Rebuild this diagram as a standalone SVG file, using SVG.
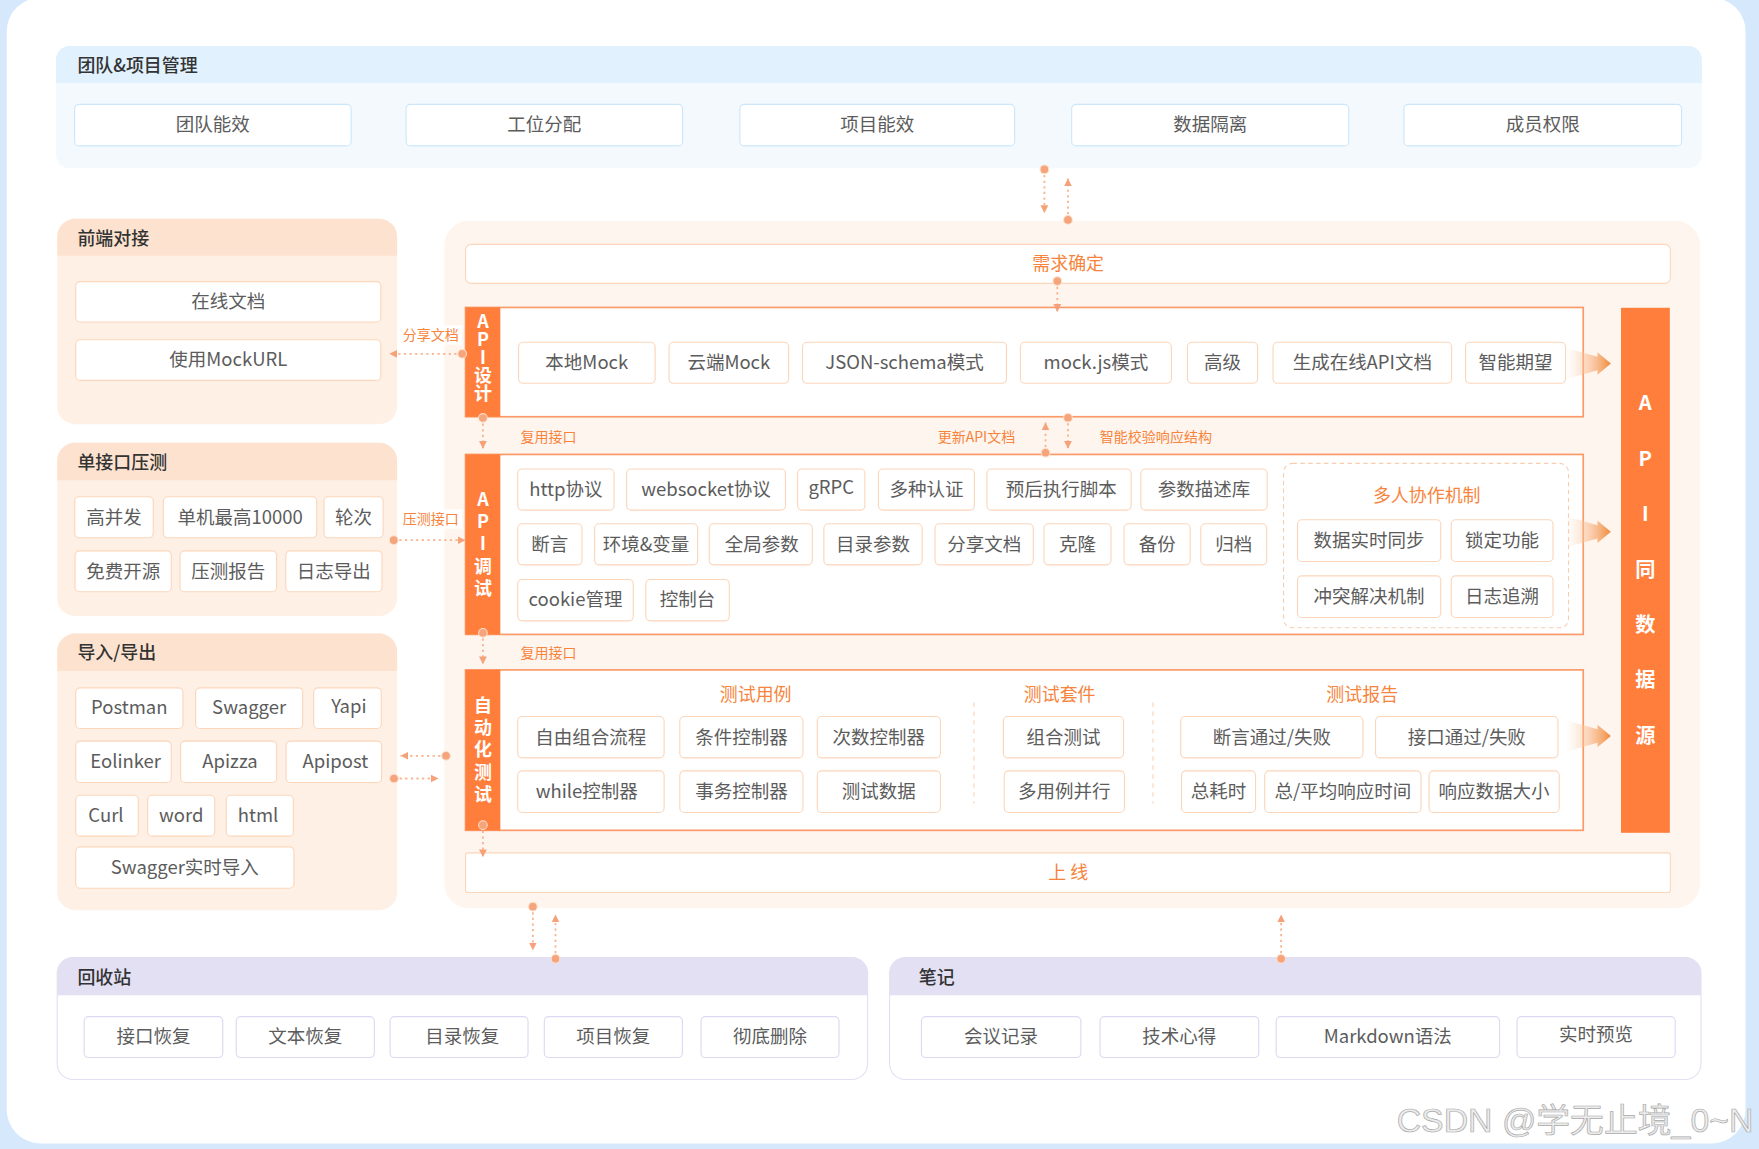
<svg xmlns="http://www.w3.org/2000/svg" width="1759" height="1149" viewBox="0 0 1759 1149">
<defs>
<style>
text{font-family:"Noto Sans CJK SC","Noto Sans",sans-serif}
.bt{font-size:16.5px;fill:#5c5c5c;text-anchor:middle;dominant-baseline:central}
.tb{fill:#fff;stroke:#cbe7fb;stroke-width:1}
.ob{fill:#fff;stroke:#fbd6ba;stroke-width:1}
.pb{fill:#fff;stroke:#dcd9f2;stroke-width:1}
.ttl{font-size:16px;fill:#333;font-weight:500;dominant-baseline:central}
.lbl{font-size:12.5px;fill:#f7843c;dominant-baseline:central}
.sec{font-size:16px;fill:#f7843c;text-anchor:middle;dominant-baseline:central}
.vv{font-size:16px;fill:#fff;font-weight:700;text-anchor:middle;writing-mode:vertical-rl;text-orientation:upright}
.vt2{font-size:18px;fill:#fff;font-weight:700;text-anchor:middle;dominant-baseline:central}
.bar{fill:#ff7e3b}
.frame{fill:#fff;stroke:#fb9a68;stroke-width:1.5}
.cn{stroke:#f7b48f;stroke-width:1.6;stroke-dasharray:2 3;fill:none;marker-start:url(#dot);marker-end:url(#arr)}
.lp{fill:#fef0e5}
.lh{fill:#fde3cf}
.ga{fill:url(#ga)}
</style>
<marker id="arr" viewBox="0 0 10 10" refX="10" refY="5" markerWidth="7" markerHeight="8" markerUnits="userSpaceOnUse" orient="auto"><path d="M0,0 L10,5 L0,10 z" fill="#f5a27a"/></marker>
<marker id="dot" viewBox="0 0 10 10" refX="5" refY="5" markerWidth="9" markerHeight="9" markerUnits="userSpaceOnUse"><circle cx="5" cy="5" r="4.3" fill="#f5a47c" stroke="#fde0cc" stroke-width="1"/></marker>
<linearGradient id="ga" x1="0" x2="1" y1="0" y2="0"><stop offset="0" stop-color="#fbd5b8" stop-opacity="0"/><stop offset="0.6" stop-color="#f8b585" stop-opacity="0.7"/><stop offset="1" stop-color="#f08a3a"/></linearGradient>
</defs>
<rect x="0" y="0" width="1759" height="1149" fill="#d6e9fc"/>
<g transform="scale(1.12181,1.12207)">
<rect x="6" y="-2" width="1550" height="1021" rx="30" fill="#fff"/>

<!-- top band -->
<g id="team">
<rect x="50" y="41" width="1467" height="109" rx="12" fill="#f4f9fe"/>
<path d="M50,74 V53 A12,12 0 0 1 62,41 H1505 A12,12 0 0 1 1517,53 V74 Z" fill="#e1f1fd"/>
<text class="ttl" x="69" y="57">团队&amp;项目管理</text>
<g id="t1"><rect class="tb" x="66.5" y="93" width="246.5" height="37" rx="4"/><text class="bt" x="189.7" y="109.5">团队能效</text></g>
<g id="t2"><rect class="tb" x="362" y="93" width="246.5" height="37" rx="4"/><text class="bt" x="485.2" y="109.5">工位分配</text></g>
<g id="t3"><rect class="tb" x="659.5" y="93" width="245" height="37" rx="4"/><text class="bt" x="782" y="109.5">项目能效</text></g>
<g id="t4"><rect class="tb" x="955.3" y="93" width="247" height="37" rx="4"/><text class="bt" x="1078.8" y="109.5">数据隔离</text></g>
<g id="t5"><rect class="tb" x="1251.5" y="93" width="247.5" height="37" rx="4"/><text class="bt" x="1375.2" y="109.5">成员权限</text></g>
</g>

<!-- 前端对接 -->
<g id="frontend">
<rect class="lp" x="51" y="195" width="303" height="183" rx="16"/>
<path class="lh" d="M51,228 V211 A16,16 0 0 1 67,195 H338 A16,16 0 0 1 354,211 V228 Z"/>
<text class="ttl" x="69" y="211">前端对接</text>
<g id="f1"><rect class="ob" x="67.5" y="251" width="272" height="36" rx="4"/><text class="bt" x="203.5" y="267.5">在线文档</text></g>
<g id="f2"><rect class="ob" x="67.5" y="302.8" width="272" height="36.2" rx="4"/><text class="bt" x="203.5" y="319.5">使用MockURL</text></g>
</g>

<!-- 单接口压测 -->
<g id="stress">
<rect class="lp" x="51" y="394.5" width="303" height="154.5" rx="16"/>
<path class="lh" d="M51,428 V410.5 A16,16 0 0 1 67,394.5 H338 A16,16 0 0 1 354,410.5 V428 Z"/>
<text class="ttl" x="69" y="410.5">单接口压测</text>
<g id="s1"><rect class="ob" x="66.6" y="442.7" width="70" height="36.6" rx="4"/><text class="bt" x="101.6" y="459.5">高并发</text></g>
<g id="s2"><rect class="ob" x="145.6" y="442.7" width="136.7" height="36.6" rx="4"/><text class="bt" x="214" y="459.5">单机最高10000</text></g>
<g id="s3"><rect class="ob" x="288.8" y="442.7" width="52.7" height="36.6" rx="4"/><text class="bt" x="315.1" y="459.5">轮次</text></g>
<g id="s4"><rect class="ob" x="66.9" y="490.9" width="85.8" height="36.5" rx="4"/><text class="bt" x="109.8" y="507.7">免费开源</text></g>
<g id="s5"><rect class="ob" x="160.5" y="490.9" width="86.1" height="36.5" rx="4"/><text class="bt" x="203.5" y="507.7">压测报告</text></g>
<g id="s6"><rect class="ob" x="254.7" y="490.9" width="85.8" height="36.5" rx="4"/><text class="bt" x="297.6" y="507.7">日志导出</text></g>
</g>

<!-- 导入/导出 -->
<g id="import">
<rect class="lp" x="51" y="564.6" width="303" height="246.6" rx="16"/>
<path class="lh" d="M51,598 V580.6 A16,16 0 0 1 67,564.6 H338 A16,16 0 0 1 354,580.6 V598 Z"/>
<text class="ttl" x="69" y="580.5">导入/导出</text>
<g id="i1"><rect class="ob" x="67.5" y="613" width="95.6" height="36.2" rx="4"/><text class="bt" x="115.3" y="629.5">Postman</text></g>
<g id="i2"><rect class="ob" x="174.4" y="613" width="95.4" height="36.2" rx="4"/><text class="bt" x="222.1" y="629.5">Swagger</text></g>
<g id="i3"><rect class="ob" x="279.6" y="613" width="60.3" height="36.2" rx="4"/><text class="bt" x="311" y="628">Yapi</text></g>
<g id="i4"><rect class="ob" x="67.5" y="660.5" width="85.2" height="36.9" rx="4"/><text class="bt" x="112" y="677.5">Eolinker</text></g>
<g id="i5"><rect class="ob" x="161" y="660.5" width="85.6" height="36.9" rx="4"/><text class="bt" x="205" y="677.5">Apizza</text></g>
<g id="i6"><rect class="ob" x="255" y="660.5" width="85.2" height="36.9" rx="4"/><text class="bt" x="299" y="677.5">Apipost</text></g>
<g id="i7"><rect class="ob" x="67.5" y="708.7" width="55.8" height="36.5" rx="4"/><text class="bt" x="94.5" y="725.5">Curl</text></g>
<g id="i8"><rect class="ob" x="131.6" y="708.7" width="59.8" height="36.5" rx="4"/><text class="bt" x="161.5" y="725.5">word</text></g>
<g id="i9"><rect class="ob" x="201.7" y="708.7" width="59.8" height="36.5" rx="4"/><text class="bt" x="230" y="725.5">html</text></g>
<g id="i10"><rect class="ob" x="67.5" y="754.7" width="194.5" height="36.9" rx="4"/><text class="bt" x="164.7" y="771.5">Swagger实时导入</text></g>
</g>

<!-- middle panel -->
<g id="main">
<rect x="396" y="196.7" width="1119.4" height="612.7" rx="22" fill="#fef5ee"/>
<g id="req"><rect class="ob" x="415" y="217.8" width="1074" height="34.8" rx="5"/><text class="sec" x="952.2" y="233.8">需求确定</text></g>

<g id="design">
<rect class="frame" x="415" y="274" width="996.3" height="97.4"/>
<rect class="bar" x="415" y="274" width="31" height="97.4"/>
<text class="vv" x="430.5" y="318.5">API设计</text>
<g id="d1"><rect class="ob" x="462.3" y="305" width="121.7" height="36.6" rx="4"/><text class="bt" x="523.1" y="321.8">本地Mock</text></g>
<g id="d2"><rect class="ob" x="596.4" y="305" width="106.6" height="36.6" rx="4"/><text class="bt" x="649.7" y="321.8">云端Mock</text></g>
<g id="d3"><rect class="ob" x="715.4" y="305" width="181.8" height="36.6" rx="4"/><text class="bt" x="806.3" y="321.8">JSON-schema模式</text></g>
<g id="d4"><rect class="ob" x="909.6" y="305" width="134.6" height="36.6" rx="4"/><text class="bt" x="976.9" y="321.8">mock.js模式</text></g>
<g id="d5"><rect class="ob" x="1058.5" y="305" width="62.5" height="36.6" rx="4"/><text class="bt" x="1089.7" y="321.8">高级</text></g>
<g id="d6"><rect class="ob" x="1134.8" y="305" width="159.2" height="36.6" rx="4"/><text class="bt" x="1214.4" y="321.8">生成在线API文档</text></g>
<g id="d7"><rect class="ob" x="1306.4" y="305" width="89.1" height="36.6" rx="4"/><text class="bt" x="1351" y="321.8">智能期望</text></g>
</g>

<g id="debug">
<rect class="frame" x="415" y="405" width="996.3" height="160.4"/>
<rect class="bar" x="415" y="405" width="31" height="160.4"/>
<text class="vv" x="430.5" y="486.5" style="letter-spacing:4px">API调试</text>
<g id="g1"><rect class="ob" x="461.5" y="418" width="85.9" height="36.6" rx="4"/><text class="bt" x="504.4" y="434.8">http协议</text></g>
<g id="g2"><rect class="ob" x="558.6" y="418" width="141.6" height="36.6" rx="4"/><text class="bt" x="629.4" y="434.8">websocket协议</text></g>
<g id="g3"><rect class="ob" x="711" y="418" width="60" height="36.6" rx="4"/><text class="bt" x="741" y="433.5">gRPC</text></g>
<g id="g4"><rect class="ob" x="783" y="418" width="85.6" height="36.6" rx="4"/><text class="bt" x="825.8" y="434.8">多种认证</text></g>
<g id="g5"><rect class="ob" x="879.7" y="418" width="128.6" height="36.6" rx="4"/><text class="bt" x="946" y="434.8">预后执行脚本</text></g>
<g id="g6"><rect class="ob" x="1017" y="418" width="112.6" height="36.6" rx="4"/><text class="bt" x="1073.3" y="434.8">参数描述库</text></g>
<g id="g7"><rect class="ob" x="461.5" y="466.8" width="57.3" height="36.6" rx="4"/><text class="bt" x="490.1" y="483.6">断言</text></g>
<g id="g8"><rect class="ob" x="530" y="466.8" width="91.9" height="36.6" rx="4"/><text class="bt" x="575.9" y="483.6">环境&amp;变量</text></g>
<g id="g9"><rect class="ob" x="632.2" y="466.8" width="91.9" height="36.6" rx="4"/><text class="bt" x="679" y="483.6">全局参数</text></g>
<g id="g10"><rect class="ob" x="734.4" y="466.8" width="87.6" height="36.6" rx="4"/><text class="bt" x="778.2" y="483.6">目录参数</text></g>
<g id="g11"><rect class="ob" x="833.5" y="466.8" width="87.6" height="36.6" rx="4"/><text class="bt" x="877.3" y="483.6">分享文档</text></g>
<g id="g12"><rect class="ob" x="930.6" y="466.8" width="59.8" height="36.6" rx="4"/><text class="bt" x="960.5" y="483.6">克隆</text></g>
<g id="g13"><rect class="ob" x="1002" y="466.8" width="59" height="36.6" rx="4"/><text class="bt" x="1031.5" y="483.6">备份</text></g>
<g id="g14"><rect class="ob" x="1070.4" y="466.8" width="58.8" height="36.6" rx="4"/><text class="bt" x="1099.8" y="483.6">归档</text></g>
<g id="g15"><rect class="ob" x="461.5" y="516.4" width="103" height="36.9" rx="4"/><text class="bt" x="513" y="533.3">cookie管理</text></g>
<g id="g16"><rect class="ob" x="575.7" y="516.4" width="74.4" height="36.9" rx="4"/><text class="bt" x="612.9" y="533.3">控制台</text></g>
<g id="collab">
<rect x="1144.2" y="413" width="254" height="146.5" rx="8" fill="none" stroke="#f9cdb0" stroke-width="1" stroke-dasharray="4 3"/>
<text class="sec" x="1271.8" y="440.5">多人协作机制</text>
<g id="c1"><rect class="ob" x="1156.6" y="463.2" width="127.7" height="37.2" rx="4"/><text class="bt" x="1220.4" y="480.3">数据实时同步</text></g>
<g id="c2"><rect class="ob" x="1293.7" y="463.2" width="90.7" height="37.2" rx="4"/><text class="bt" x="1339" y="480.3">锁定功能</text></g>
<g id="c3"><rect class="ob" x="1156.6" y="513.2" width="127.7" height="37.1" rx="4"/><text class="bt" x="1220.4" y="530.2">冲突解决机制</text></g>
<g id="c4"><rect class="ob" x="1293.7" y="513.2" width="90.7" height="37.1" rx="4"/><text class="bt" x="1339" y="530.2">日志追溯</text></g>
</g>
</g>

<g id="auto">
<rect class="frame" x="415" y="597" width="996.3" height="143"/>
<rect class="bar" x="415" y="597" width="31" height="143"/>
<text class="vv" x="430.5" y="670" style="letter-spacing:3.8px">自动化测试</text>
<text class="sec" x="673.6" y="617.5">测试用例</text>
<text class="sec" x="944.6" y="617.5">测试套件</text>
<text class="sec" x="1214.3" y="617.5">测试报告</text>
<line x1="868.2" y1="626" x2="868.2" y2="716" stroke="#fbd3b8" stroke-width="1" stroke-dasharray="4 4"/>
<line x1="1027.8" y1="626" x2="1027.8" y2="716" stroke="#fbd3b8" stroke-width="1" stroke-dasharray="4 4"/>
<g id="a1"><rect class="ob" x="461.5" y="638.6" width="130.5" height="36.8" rx="4"/><text class="bt" x="526.7" y="655.5">自由组合流程</text></g>
<g id="a2"><rect class="ob" x="606" y="638.6" width="109.8" height="36.8" rx="4"/><text class="bt" x="660.9" y="655.5">条件控制器</text></g>
<g id="a3"><rect class="ob" x="728.5" y="638.6" width="109.8" height="36.8" rx="4"/><text class="bt" x="783.4" y="655.5">次数控制器</text></g>
<g id="a4"><rect class="ob" x="894.4" y="638.6" width="107.1" height="36.8" rx="4"/><text class="bt" x="948" y="655.5">组合测试</text></g>
<g id="a5"><rect class="ob" x="1052.5" y="638.6" width="162.5" height="36.8" rx="4"/><text class="bt" x="1133.7" y="655.5">断言通过/失败</text></g>
<g id="a6"><rect class="ob" x="1226.2" y="638.6" width="162.6" height="36.8" rx="4"/><text class="bt" x="1307.5" y="655.5">接口通过/失败</text></g>
<g id="a7"><rect class="ob" x="461.5" y="687" width="130.5" height="37.1" rx="4"/><text class="bt" x="523" y="704">while控制器</text></g>
<g id="a8"><rect class="ob" x="606" y="687" width="109.8" height="37.1" rx="4"/><text class="bt" x="660.9" y="704">事务控制器</text></g>
<g id="a9"><rect class="ob" x="728.5" y="687" width="109.8" height="37.1" rx="4"/><text class="bt" x="783.4" y="704">测试数据</text></g>
<g id="a10"><rect class="ob" x="895.2" y="687" width="107.2" height="37.1" rx="4"/><text class="bt" x="948.8" y="704">多用例并行</text></g>
<g id="a11"><rect class="ob" x="1053.2" y="687" width="66" height="37.1" rx="4"/><text class="bt" x="1086.2" y="704">总耗时</text></g>
<g id="a12"><rect class="ob" x="1127.4" y="687" width="139.3" height="37.1" rx="4"/><text class="bt" x="1197" y="704">总/平均响应时间</text></g>
<g id="a13"><rect class="ob" x="1273.8" y="687" width="116.1" height="37.1" rx="4"/><text class="bt" x="1331.8" y="704">响应数据大小</text></g>
</g>

<g id="online"><rect class="ob" x="415" y="760.1" width="1074" height="35.3" rx="2"/><text class="sec" x="952.3" y="776.3">上 线</text></g>

<g id="sync">
<rect class="bar" x="1445" y="274.3" width="43.5" height="467.9"/>
<text class="vt2"><tspan x="1466.7" y="357">A</tspan><tspan x="1466.7" y="407">P</tspan><tspan x="1466.7" y="456">I</tspan><tspan x="1466.7" y="506">同</tspan><tspan x="1466.7" y="555">数</tspan><tspan x="1466.7" y="604">据</tspan><tspan x="1466.7" y="654">源</tspan></text>
</g>
</g>

<!-- bottom panels -->
<g id="recycle">
<rect x="51" y="853.4" width="722.4" height="108.7" rx="14" fill="#fff" stroke="#e3e0f3" stroke-width="1"/>
<path d="M51,887 V867.4 A14,14 0 0 1 65,853.4 H759.4 A14,14 0 0 1 773.4,867.4 V887 Z" fill="#e3e0f3"/>
<text class="ttl" x="69" y="869.6">回收站</text>
<g id="r1"><rect class="pb" x="75" y="906" width="123.6" height="36.5" rx="4"/><text class="bt" x="136.8" y="922.7">接口恢复</text></g>
<g id="r2"><rect class="pb" x="210.6" y="906" width="123.1" height="36.5" rx="4"/><text class="bt" x="272.1" y="922.7">文本恢复</text></g>
<g id="r3"><rect class="pb" x="347.7" y="906" width="123" height="36.5" rx="4"/><text class="bt" x="412" y="922.7">目录恢复</text></g>
<g id="r4"><rect class="pb" x="485.2" y="906" width="123.1" height="36.5" rx="4"/><text class="bt" x="546.7" y="922.7">项目恢复</text></g>
<g id="r5"><rect class="pb" x="624.9" y="906" width="123" height="36.5" rx="4"/><text class="bt" x="686.4" y="922.7">彻底删除</text></g>
</g>
<g id="notes">
<rect x="793" y="853.4" width="723.3" height="108.7" rx="14" fill="#fff" stroke="#e3e0f3" stroke-width="1"/>
<path d="M793,887 V867.4 A14,14 0 0 1 807,853.4 H1502.3 A14,14 0 0 1 1516.3,867.4 V887 Z" fill="#e3e0f3"/>
<text class="ttl" x="819" y="869.6">笔记</text>
<g id="m1"><rect class="pb" x="821.4" y="906" width="142.1" height="36.5" rx="4"/><text class="bt" x="892.4" y="922.7">会议记录</text></g>
<g id="m2"><rect class="pb" x="980.6" y="906" width="141.5" height="36.5" rx="4"/><text class="bt" x="1051.3" y="922.7">技术心得</text></g>
<g id="m3"><rect class="pb" x="1137.6" y="906" width="199.1" height="36.5" rx="4"/><text class="bt" x="1237.1" y="922.7">Markdown语法</text></g>
<g id="m4"><rect class="pb" x="1352.3" y="906" width="141" height="36.5" rx="4"/><text class="bt" x="1422.8" y="920.5">实时预览</text></g>
</g>

<!-- connectors -->
<g id="connectors">
<line class="cn" x1="931" y1="151" x2="931" y2="190"/>
<line class="cn" x1="952" y1="196" x2="952" y2="159"/>
<line class="cn" x1="942.5" y1="250.5" x2="942.5" y2="278"/>
<rect x="357" y="290" width="55" height="17" fill="#fff"/>
<text class="lbl" x="359" y="297.6">分享文档</text>
<line class="cn" x1="412" y1="315.3" x2="347" y2="315.3"/>
<rect x="357" y="454" width="55" height="17" fill="#fff"/>
<text class="lbl" x="359" y="461.9">压测接口</text>
<line class="cn" x1="351" y1="481.4" x2="415" y2="481.4"/>
<line class="cn" x1="430.5" y1="372.5" x2="430.5" y2="400"/>
<text class="lbl" x="463.9" y="388.3">复用接口</text>
<line class="cn" x1="932" y1="403.5" x2="932" y2="376.5"/>
<text class="lbl" x="905" y="388.3" text-anchor="end">更新API文档</text>
<line class="cn" x1="952" y1="372.3" x2="952" y2="400"/>
<text class="lbl" x="980.4" y="388.3">智能校验响应结构</text>
<line class="cn" x1="430.5" y1="564" x2="430.5" y2="592"/>
<text class="lbl" x="463.9" y="580.8">复用接口</text>
<line class="cn" x1="430.5" y1="735.4" x2="430.5" y2="764"/>
<line class="cn" x1="397.6" y1="673.6" x2="357" y2="673.6"/>
<line class="cn" x1="351.2" y1="693.8" x2="391" y2="693.8"/>
<line class="cn" x1="475" y1="808" x2="475" y2="847"/>
<line class="cn" x1="495.2" y1="854.5" x2="495.2" y2="815"/>
<line class="cn" x1="1142" y1="854.5" x2="1142" y2="815"/>
<path class="ga" d="M1396,310 L1424,318 L1424,314 L1436,324 L1424,334 L1424,330 L1396,338 Z"/>
<path class="ga" d="M1396,460 L1424,468 L1424,464 L1436,474 L1424,484 L1424,480 L1396,488 Z"/>
<path class="ga" d="M1396,642 L1424,650 L1424,646 L1436,656 L1424,666 L1424,662 L1396,670 Z"/>
</g>

<text x="1245" y="1009" font-size="29" textLength="318" lengthAdjust="spacingAndGlyphs" fill="#ececec" stroke="#a9a9a9" stroke-width="0.6" style="font-family:'Liberation Sans','Noto Sans CJK SC',sans-serif">CSDN @学无止境_0~N</text>
</g>
</svg>
